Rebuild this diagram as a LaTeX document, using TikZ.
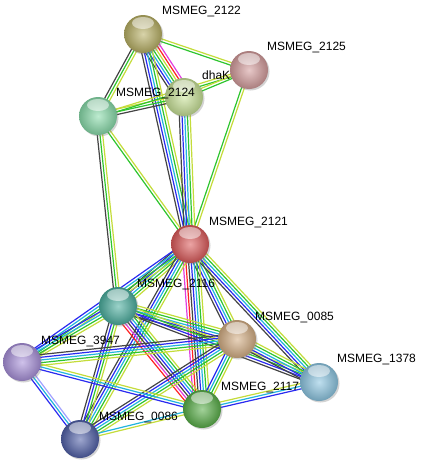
\documentclass[tikz,border=0pt]{standalone}
\usepackage{fontspec}
\setmainfont{Liberation Sans}
\usetikzlibrary{calc,backgrounds,shadows}
\definecolor{cnb}{HTML}{2EC52E}
\definecolor{ctm}{HTML}{C4DC3A}
\definecolor{cdb}{HTML}{22B4DE}
\definecolor{ccoo}{HTML}{2A2AF0}
\definecolor{cce}{HTML}{444444}
\definecolor{cexp}{HTML}{E03CE0}
\definecolor{cfu}{HTML}{FF2222}
\definecolor{chom}{HTML}{A0A0FF}
\definecolor{b2122}{HTML}{B8B064}
\definecolor{b2125}{HTML}{D49C9C}
\definecolor{bdhaK}{HTML}{C8E296}
\definecolor{b2124}{HTML}{88DCAA}
\definecolor{b2121}{HTML}{DC5A5A}
\definecolor{b2116}{HTML}{4AAE9E}
\definecolor{b0085}{HTML}{D4AE84}
\definecolor{b3947}{HTML}{A890DA}
\definecolor{b1378}{HTML}{8CC6E2}
\definecolor{b2117}{HTML}{58AE48}
\definecolor{b0086}{HTML}{5060A8}
\tikzset{
  prot/.style={circle, minimum size=38pt, inner sep=0pt, shading=radial,
    inner color=#1!55!white, outer color=#1!80!black,
    drop shadow={shadow xshift=1.5pt, shadow yshift=-1.5pt, opacity=0.35},
    path picture={\fill[white, opacity=0.5] ($(path picture bounding box.north)+(0,-8pt)$) ellipse (11pt and 6pt);}},
  lbl/.style={anchor=west, font=\fontsize{12pt}{14pt}\selectfont, inner sep=0pt},
  edgeline/.style={line width=1.2pt}
}
\newcommand\sedge[4]{%
  \foreach \col [count=\i] in {#4} {
    \pgfmathsetmacro\off{(\i-(#3+1)/2)*2.7}
    \draw[\col, edgeline] ($(#1.center)!\off pt!90:(#2.center)$) -- ($(#2.center)!\off pt!-90:(#1.center)$);
  }}
\begin{document}
\begin{tikzpicture}[x=1pt,y=-1pt]
\useasboundingbox (0,0) rectangle (425,466);
\node[prot=b2122] (n2122) at (143,34) {};
\node[prot=b2125] (n2125) at (249,70) {};
\node[prot=bdhaK] (dhaK) at (184,97) {};
\node[prot=b2124] (n2124) at (98,116) {};
\node[prot=b2121] (n2121) at (190,244) {};
\node[prot=b2116] (n2116) at (118,306) {};
\node[prot=b0085] (n0085) at (237,339) {};
\node[prot=b3947] (n3947) at (22,362) {};
\node[prot=b1378] (n1378) at (319,382) {};
\node[prot=b2117] (n2117) at (202,409) {};
\node[prot=b0086] (n0086) at (80,439) {};
\node[lbl] (l2122) at (162,12) {MSMEG\_2122};
\node[lbl] (l2125) at (267,48) {MSMEG\_2125};
\node[lbl] (ldhaK) at (202,75) {dhaK};
\node[lbl] (l2124) at (116,94) {MSMEG\_2124};
\node[lbl] (l2121) at (209,222) {MSMEG\_2121};
\node[lbl] (l2116) at (137,284) {MSMEG\_2116};
\node[lbl] (l0085) at (255,317) {MSMEG\_0085};
\node[lbl] (l3947) at (41,341) {MSMEG\_3947};
\node[lbl] (l1378) at (337,359) {MSMEG\_1378};
\node[lbl] (l2117) at (221,387) {MSMEG\_2117};
\node[lbl] (l0086) at (99,417) {MSMEG\_0086};
\begin{pgfonlayer}{background}
\sedge{n2122}{n2125}{2}{cnb,ctm}
\sedge{n2122}{dhaK}{7}{cce,ccoo,cdb,cnb,ctm,cfu,cexp}
\sedge{n2122}{n2121}{5}{cce,ccoo,cdb,cnb,ctm}
\sedge{n2122}{n2124}{3}{cce,cnb,ctm}
\sedge{n2124}{dhaK}{3}{cce,cnb,ctm}
\sedge{n2124}{n2125}{2}{cnb,ctm}
\sedge{dhaK}{n2125}{2}{cnb,ctm}
\sedge{n2125}{n2121}{2}{cnb,ctm}
\sedge{n2124}{n2121}{2}{cnb,ctm}
\sedge{n2124}{n2116}{3}{cce,cnb,ctm}
\sedge{dhaK}{n2121}{5}{cce,ccoo,cdb,cnb,ctm}
\sedge{n2121}{n2116}{5}{cce,ccoo,cdb,cnb,ctm}
\sedge{n2121}{n0085}{5}{cce,ccoo,cdb,cnb,ctm}
\sedge{n2121}{n1378}{5}{cce,ccoo,cdb,cnb,ctm}
\sedge{n2121}{n2117}{7}{cexp,cfu,cce,ccoo,cdb,cnb,ctm}
\sedge{n2121}{n3947}{4}{ccoo,cdb,cnb,ctm}
\sedge{n2121}{n0086}{5}{cce,ccoo,cdb,cnb,ctm}
\sedge{n2116}{n0085}{5}{cce,ccoo,cdb,cnb,ctm}
\sedge{n2116}{n1378}{4}{cce,ccoo,cnb,ctm}
\sedge{n2116}{n2117}{7}{cfu,cexp,cce,ccoo,cdb,cnb,ctm}
\sedge{n2116}{n3947}{4}{ccoo,cdb,cnb,ctm}
\sedge{n2116}{n0086}{4}{cce,ccoo,cnb,ctm}
\sedge{n0085}{n3947}{5}{cce,ccoo,cdb,cnb,ctm}
\sedge{n0085}{n1378}{5}{cce,ccoo,cdb,cnb,ctm}
\sedge{n0085}{n2117}{4}{ccoo,cdb,cnb,ctm}
\sedge{n0085}{n0086}{5}{cce,ccoo,cdb,cnb,ctm}
\sedge{n3947}{n2117}{3}{ccoo,cdb,ctm}
\sedge{n3947}{n0086}{3}{ccoo,cdb,chom}
\sedge{n2117}{n1378}{3}{ccoo,cdb,ctm}
\sedge{n2117}{n0086}{2}{cdb,ctm}
\end{pgfonlayer}
\end{tikzpicture}
\end{document}
